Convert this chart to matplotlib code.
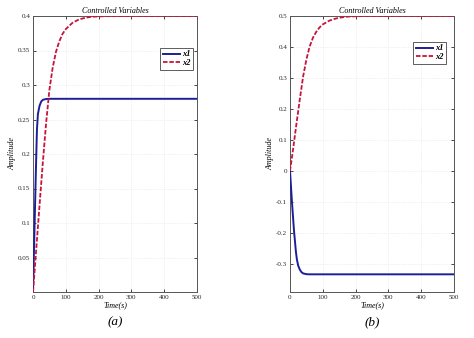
import matplotlib
matplotlib.use("Agg")
import matplotlib.pyplot as plt

# Response of the two controlled variables, case (a)
t_a_x1 = [0, 3, 6, 9, 12, 15, 20, 25, 30, 40, 50, 500]
x1_a = [0, 0.06, 0.12, 0.18, 0.235, 0.258, 0.27, 0.276, 0.2785, 0.2797, 0.28, 0.28]
t_a_x2 = [0, 10, 20, 30, 40, 50, 60, 70, 80, 90, 100, 120, 140, 160, 180, 220, 500]
x2_a = [0, 0.063, 0.126, 0.188, 0.245, 0.293, 0.325, 0.348, 0.363, 0.374, 0.381,
        0.39, 0.395, 0.3975, 0.399, 0.3998, 0.4]

# Response of the two controlled variables, case (b)
t_b_x1 = [0, 3, 6, 9, 12, 15, 18, 21, 25, 30, 35, 40, 50, 60, 500]
x1_b = [0, -0.05, -0.1, -0.145, -0.19, -0.225, -0.26, -0.285, -0.305, -0.318,
        -0.326, -0.33, -0.3325, -0.333, -0.333]
t_b_x2 = [0, 10, 20, 30, 40, 50, 60, 70, 80, 90, 100, 120, 140, 160, 180, 220, 500]
x2_b = [0, 0.075, 0.155, 0.232, 0.305, 0.36, 0.402, 0.43, 0.449, 0.463, 0.473,
        0.485, 0.492, 0.496, 0.4985, 0.4997, 0.5]

xticks = [0, 100, 200, 300, 400, 500]
yticks_a = [0.05, 0.1, 0.15, 0.2, 0.25, 0.3, 0.35, 0.4]
ytick_labels_a = ["0.05", "0.1", "0.15", "0.2", "0.25", "0.3", "0.35", "0.4"]
yticks_b = [-0.3, -0.2, -0.1, 0, 0.1, 0.2, 0.3, 0.4, 0.5]
ytick_labels_b = ["-0.3", "-0.2", "-0.1", "0", "0.1", "0.2", "0.3", "0.4", "0.5"]

SERIF = ["Liberation Serif", "DejaVu Serif"]
plt.rcParams["font.family"] = SERIF

C_X1 = "#1c1f96"
C_X2 = "#c8143c"

fig = plt.figure(figsize=(4.74, 3.38), dpi=100)
ax_a = fig.add_axes([33 / 474, 46 / 338, 164 / 474, 276 / 338])
ax_b = fig.add_axes([290 / 474, 46 / 338, 164 / 474, 276 / 338])


def style(ax, yticks, ylabels, ylim):
    ax.set_xlim(0, 500)
    ax.set_ylim(*ylim)
    ax.set_xticks(xticks)
    ax.set_xticklabels([str(v) for v in xticks])
    ax.set_yticks(yticks)
    ax.set_yticklabels(ylabels)
    ax.tick_params(direction="in", length=2.5, width=0.6, labelsize=5,
                   top=True, right=True, pad=2, colors="#262626")
    ax.grid(True, color="#e2e2e2", linewidth=0.5, linestyle=":")
    for s in ax.spines.values():
        s.set_color("#555555")
        s.set_linewidth(0.7)
    ax.set_title("Controlled Variables", fontsize=5.8, style="italic", pad=2)
    ax.set_xlabel("Time(s)", fontsize=5.8, style="italic", labelpad=1)
    ax.set_ylabel("Amplitude", fontsize=5.8, style="italic", labelpad=1)


for ax, tx1, y1, tx2, y2 in [(ax_a, t_a_x1, x1_a, t_a_x2, x2_a),
                             (ax_b, t_b_x1, x1_b, t_b_x2, x2_b)]:
    ax.plot(tx1, y1, color=C_X1, linewidth=1.4, label="x1", zorder=3)
    ax.plot(tx2, y2, color=C_X2, linewidth=1.3, linestyle=(0, (2.5, 1.0)),
            label="x2", zorder=4)

style(ax_a, yticks_a, ytick_labels_a, (0, 0.4))
style(ax_b, yticks_b, ytick_labels_b, (-0.39, 0.5))

for ax, anchor in [(ax_a, (1.0 - 4 / 164, 1.0 - 32 / 276)),
                   (ax_b, (1.0 - 8 / 164, 1.0 - 26 / 276))]:
    leg = ax.legend(loc="upper right", bbox_to_anchor=anchor,
                    prop={"family": SERIF, "style": "italic", "weight": "bold", "size": 6},
                    handlelength=2.0, handletextpad=0.3, borderpad=0.3,
                    labelspacing=0.1, borderaxespad=0, fancybox=False,
                    framealpha=1)
    leg.get_frame().set_edgecolor("#444444")
    leg.get_frame().set_linewidth(0.6)

fig.text(115 / 474, 1 - 322 / 338, "(a)", fontsize=9.5, style="italic",
         ha="center", va="center")
fig.text(372 / 474, 1 - 322 / 338, "(b)", fontsize=9.5, style="italic",
         ha="center", va="center")

fig.savefig("out.png", dpi=100)
